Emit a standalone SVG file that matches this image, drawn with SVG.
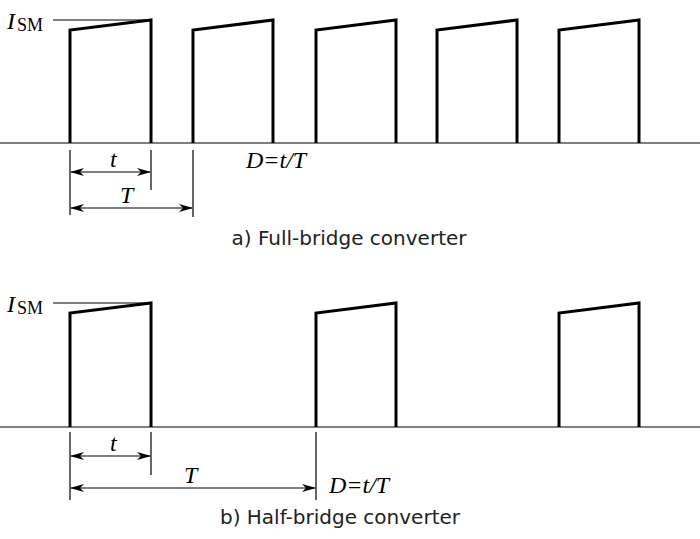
<svg xmlns="http://www.w3.org/2000/svg" width="700" height="539" viewBox="0 0 700 539">
<style>
.p{fill:none;stroke:#000;stroke-width:3;stroke-linejoin:miter}
.t{stroke:#000;stroke-width:1.2;fill:none}
.a{stroke:#000;stroke-width:1.2;marker-start:url(#m);marker-end:url(#m)}
.i{font-family:"Liberation Serif",serif;font-style:italic;font-size:24px}
.s{font-family:"Liberation Serif",serif;font-size:18px}
.c{font-family:"DejaVu Sans",sans-serif;font-size:20px;fill:#222}
</style>
<defs><marker id="m" markerWidth="14" markerHeight="8" refX="13" refY="4" orient="auto-start-reverse" markerUnits="userSpaceOnUse"><path d="M0,0 L14,4 L0,8 L4,4z"/></marker></defs>
<rect width="700" height="539" fill="#fff"/>
<g id="top">
<line class="t" x1="0" y1="143" x2="700" y2="143" stroke-width="1.5"/>
<line class="t" x1="53" y1="20" x2="151" y2="20"/>
<text class="i" x="7" y="29" font-size="26">I</text><text class="s" x="17" y="31">SM</text>
<path class="p" d="M70,143V30L151,20V143"/>
<path class="p" d="M193,143V30L273,20V143"/>
<path class="p" d="M316,143V30L396,20V143"/>
<path class="p" d="M437,143V30L517,20V143"/>
<path class="p" d="M559,143V30L639,20V143"/>
<line class="t" x1="70" y1="150" x2="70" y2="215"/>
<line class="t" x1="151" y1="150" x2="151" y2="190"/>
<line class="t" x1="193" y1="150" x2="193" y2="217"/>
<line class="a" x1="71" y1="172" x2="150" y2="172"/>
<line class="a" x1="71" y1="208" x2="192" y2="208"/>
<text class="i" x="110" y="167">t</text>
<text class="i" x="120" y="203">T</text>
<text class="i" x="246" y="168">D=t/T</text>
<text class="c" x="349" y="245" text-anchor="middle">a) Full-bridge converter</text>
</g>
<g id="bottom">
<line class="t" x1="0" y1="427" x2="700" y2="427" stroke-width="1.5"/>
<line class="t" x1="53" y1="303" x2="151" y2="303"/>
<text class="i" x="7" y="312" font-size="26">I</text><text class="s" x="17" y="314">SM</text>
<path class="p" d="M70,427V313L151,303V427"/>
<path class="p" d="M316,427V313L396,303V427"/>
<path class="p" d="M559,427V313L639,303V427"/>
<line class="t" x1="70" y1="432" x2="70" y2="500"/>
<line class="t" x1="151" y1="432" x2="151" y2="475"/>
<line class="t" x1="316" y1="432" x2="316" y2="500"/>
<line class="a" x1="71" y1="456" x2="150" y2="456"/>
<line class="a" x1="71" y1="488" x2="315" y2="488"/>
<text class="i" x="110" y="451">t</text>
<text class="i" x="184" y="483">T</text>
<text class="i" x="329" y="493">D=t/T</text>
<text class="c" x="340" y="524" text-anchor="middle">b) Half-bridge converter</text>
</g>
</svg>
